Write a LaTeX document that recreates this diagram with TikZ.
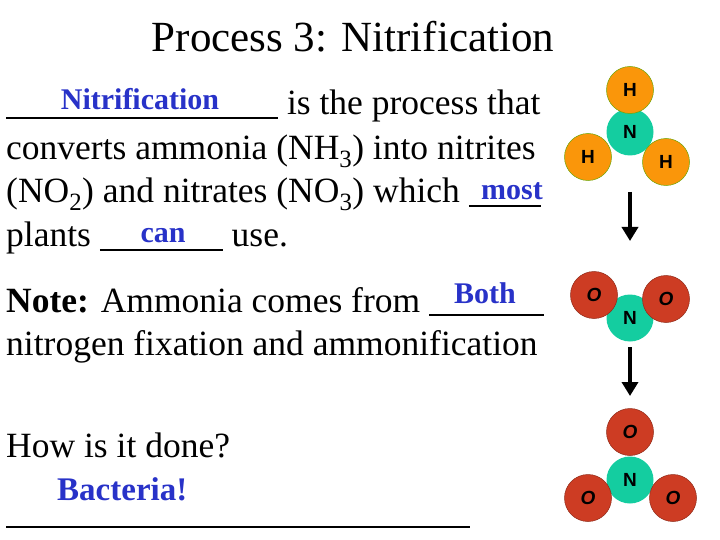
\documentclass[tikz,border=0pt]{standalone}
\usetikzlibrary{arrows.meta}
\usepackage{fontspec}
\setmainfont{Liberation Serif}
\newfontfamily\atomfont{Liberation Sans}
\newcommand\myblank[1]{\rule[-4pt]{#1}{1.8pt}}
\begin{document}
\begin{tikzpicture}[x=1pt,y=-1pt,
  txt/.style={anchor=base west,inner sep=0pt,font=\fontsize{35.5}{35.5}\selectfont},
  blu/.style={anchor=base,inner sep=0pt,text=fillblue,font=\fontsize{30}{30}\selectfont\bfseries},
  atom/.style={circle,minimum size=47pt,inner sep=0pt,font=\atomfont\bfseries\fontsize{19}{19}\selectfont},
  hyd/.style={atom,fill=hcol,draw=hcol!70!black!60!green,line width=0.5pt},
  oxy/.style={atom,fill=ocol,draw=ocol!70!black,line width=0.5pt,font=\atomfont\bfseries\itshape\fontsize{19}{19}\selectfont},
  nit/.style={atom,fill=ncol},
  arr/.style={line width=4pt,-{Triangle[length=14pt,width=16pt]}}]
\definecolor{fillblue}{RGB}{40,50,200}
\definecolor{hcol}{RGB}{250,150,10}
\definecolor{ocol}{RGB}{205,60,35}
\definecolor{ncol}{RGB}{20,205,160}
\useasboundingbox (0,0) rectangle (720,540);
\node[anchor=base,inner sep=0pt,font=\fontsize{43}{43}\selectfont] (title) at (353,52) {Process 3: Nitrification};
\node[txt] (l1) at (6,115) {\myblank{272pt} is the process that};
\node[blu] (b1) at (140,110) {Nitrification};
\node[txt] (l2) at (6,160) {converts ammonia (NH\textsubscript{3}) into nitrites};
\node[txt] (l3) at (6,203) {(NO\textsubscript{2}) and nitrates (NO\textsubscript{3}) which \myblank{72pt}};
\node[blu] (b2) at (512,200) {most};
\node[txt] (l4) at (6,247) {plants \myblank{123pt} use.};
\node[blu] (b3) at (163,243) {can};
\node[txt] (l5) at (6,312) {\textbf{Note:} Ammonia comes from \myblank{115pt}};
\node[blu] (b4) at (485,303) {Both};
\node[txt] (l6) at (6,355) {nitrogen fixation and ammonification};
\node[txt] (l7) at (6,457) {How is it done?};
\node[blu,anchor=base west,font=\fontsize{33}{33}\selectfont\bfseries] (b5) at (57,500) {Bacteria!};
\coordinate (u1) at (6,527); \coordinate (u2) at (470,527);
\draw[line width=1.8pt] (u1) -- (u2);
% NH3
\node[nit] (n1) at (630,132) {N};
\node[hyd] (h1) at (630,90) {H};
\node[hyd] (h2) at (588,157) {H};
\node[hyd] (h3) at (666,162) {H};
% NO2
\node[nit] (n2) at (630,318) {N};
\node[oxy] (o1) at (594,295) {O};
\node[oxy] (o2) at (666,299) {O};
% NO3
\node[nit] (n3) at (630,480) {N};
\node[oxy] (o3) at (630,432) {O};
\node[oxy] (o4) at (588,498) {O};
\node[oxy] (o5) at (673,498) {O};
\coordinate (a1s) at (630,192); \coordinate (a1e) at (630,241);
\coordinate (a2s) at (630,347); \coordinate (a2e) at (630,396);
\draw[arr] (a1s) -- (a1e);
\draw[arr] (a2s) -- (a2e);
\end{tikzpicture}
\end{document}
